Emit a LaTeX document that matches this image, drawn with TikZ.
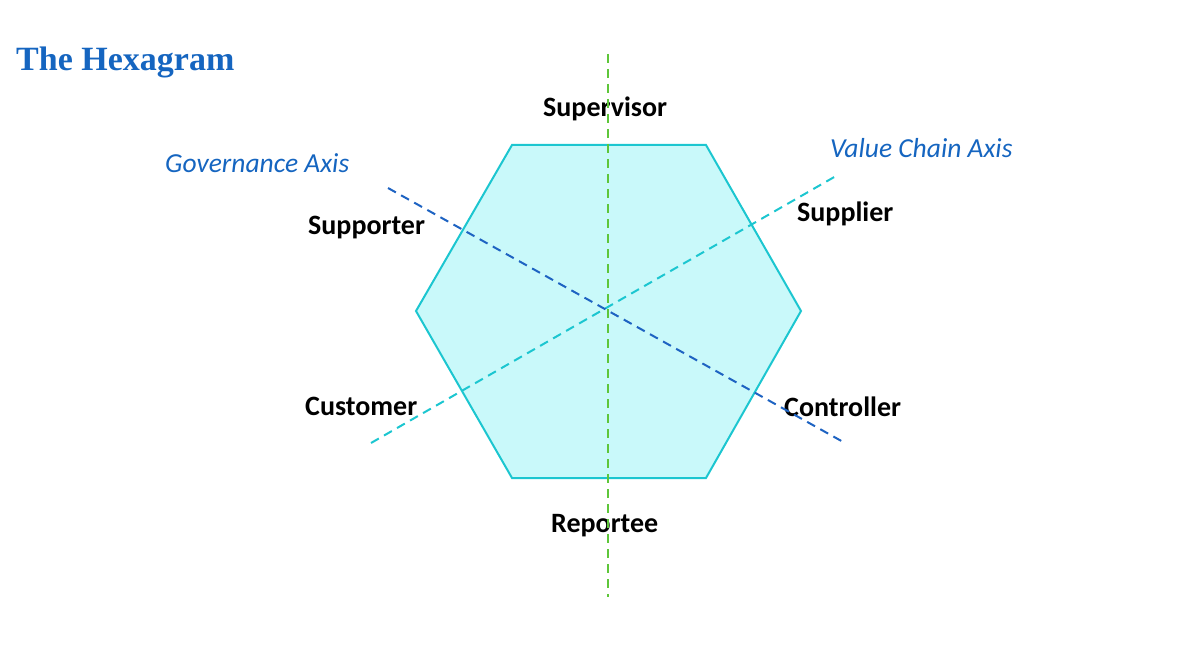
\documentclass[tikz,border=0pt]{standalone}
\usepackage{fontspec}
\setmainfont{Carlito}
\newfontfamily\titlefont{Liberation Serif}
\definecolor{hexfill}{HTML}{C9F9FA}
\definecolor{hexline}{HTML}{1CC6D0}
\definecolor{govblue}{HTML}{1E63C2}
\definecolor{titleblue}{HTML}{1565C0}
\definecolor{axisgreen}{HTML}{5EC63A}
\tikzset{
  rolelabel/.style={anchor=base west, inner sep=0pt, font=\fontsize{28}{31}\selectfont\bfseries, text=black},
  axislabel/.style={anchor=base west, inner sep=0pt, font=\fontsize{27.5}{30}\selectfont\itshape, text=titleblue},
  axisline/.style={line width=2pt, dash pattern=on 9pt off 6pt},
}
\begin{document}
\begin{tikzpicture}[x=1pt,y=-1pt]
\useasboundingbox (0,0) rectangle (1200,650);
% hexagon
\draw[hexline, fill=hexfill, line width=2pt, line join=miter]
  (512,145) -- (706,145) -- (801,311) -- (706,478) -- (512,478) -- (416,311) -- cycle;
% title
\node[anchor=base west, inner sep=0pt, font=\titlefont\fontsize{34}{38}\selectfont\bfseries, text=titleblue] (title) at (16,71) {The Hexagram};
% role labels
\node[rolelabel] (supervisor) at (543,117) {Supervisor};
\node[rolelabel] (supporter) at (308,234) {Supporter};
\node[rolelabel] (supplier) at (797,222) {Supplier};
\node[rolelabel] (customer) at (305,415) {Customer};
\node[rolelabel] (controller) at (784,416) {Controller};
\node[rolelabel] (reportee) at (551,532) {Reportee};
% axis labels
\node[axislabel] (govlabel) at (165,172) {Governance Axis};
\node[axislabel] (vclabel) at (830,158) {Value Chain Axis};
% axes
\coordinate (vtop) at (608,54);
\coordinate (vbot) at (608,597);
\coordinate (gstart) at (388,188);
\coordinate (gend) at (845,443);
\coordinate (cstart) at (371,443);
\coordinate (cend) at (836,176);
\draw[axisline, hexline] (cstart) -- (cend);
\draw[axisline, govblue] (gstart) -- (gend);
\draw[axisline, axisgreen] (vtop) -- (vbot);
\end{tikzpicture}
\end{document}
